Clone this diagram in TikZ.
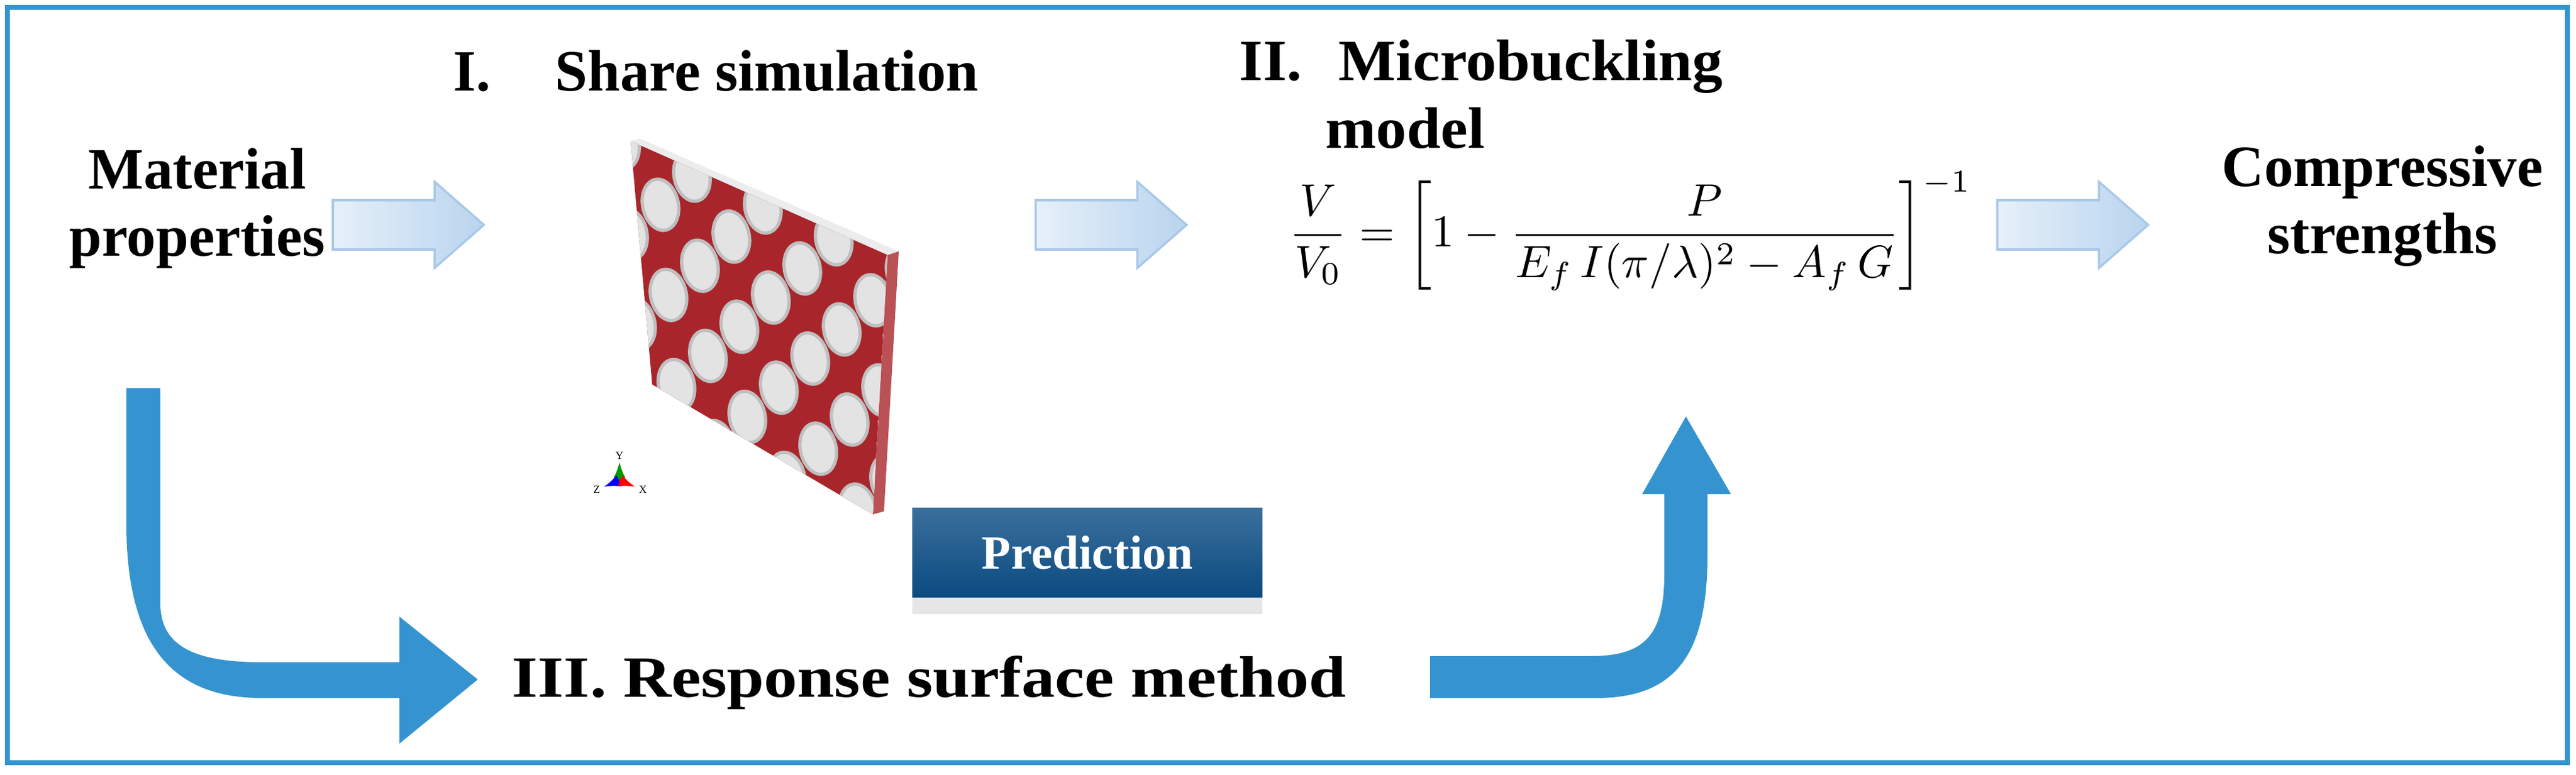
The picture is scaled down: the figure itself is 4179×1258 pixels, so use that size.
\documentclass[tikz,border=0pt]{standalone}
\usepackage{fontspec}
\setmainfont{Liberation Serif}
\usepackage{amsmath,graphicx}
\usetikzlibrary{shadows,calc}
\definecolor{bblue}{HTML}{3594D0}
\definecolor{lblueA}{HTML}{E6F0F9}
\definecolor{lblueB}{HTML}{B9D4EE}
\definecolor{lbord}{HTML}{A9C8E8}
\definecolor{matred}{HTML}{A8262B}
\definecolor{predtop}{HTML}{3A6F9C}
\definecolor{predbot}{HTML}{0B4A80}
\tikzset{
  lbl/.style={font=\fontsize{27}{31}\selectfont\bfseries, align=center, inner sep=0pt},
  lightarrow/.style={draw=lbord, line width=1pt, left color=lblueA, right color=lblueB},
  bentarrow/.style={fill=bblue, draw=none},
}
\begin{document}
\begin{tikzpicture}[x=0.01cm,y=-0.01cm]
\useasboundingbox (0,0) rectangle (4179,1258);
\draw[bblue, line width=2.5pt] (12,12) rectangle (4165,1238);

% labels
\node[lbl] (mat) at (320,338) {Material\\properties};
\node[lbl] (comp) at (3865,335) {Compressive\\strengths};
\node[lbl, anchor=west] (s1) at (735,115) {I.\hspace{1.1em}Share simulation};
\node[lbl, anchor=west] (s2) at (2010,108) {\scalebox{1.04}[1]{II.\hspace{0.6em}Microbuckling}};
\node[lbl, anchor=west] (s2b) at (2150,208) {\scalebox{1.04}[1]{model}};
\node[lbl, anchor=west] (s3) at (830,1108) {\scalebox{1.14}[1]{III. Response surface method}};

% formula
\node[inner sep=0pt, scale=2.1] (form) at (2645,375)
 {$\displaystyle \frac{V}{V_0}=\left[1-\frac{P}{E_f\,I(\pi/\lambda)^2-A_f\,G}\right]^{-1}$};

% light arrows
\foreach \x in {540,1680,3240}{
  \draw[lightarrow] (\x,325) -- (\x+165,325) -- (\x+165,295) -- (\x+245,365)
    -- (\x+165,435) -- (\x+165,405) -- (\x,405) -- cycle;
}

% simulation
\coordinate (TL) at (1023,229);
\coordinate (TR) at (1440,414);
\coordinate (BR) at (1416,835);
\coordinate (BL) at (1058,624);
\fill[white!85!gray] (TL) -- (1038,225) -- (1458,408) -- (TR) -- cycle;
\fill[matred!80!white] (TR) -- (1458,408) -- (1434,830) -- (BR) -- cycle;
\begin{scope}
  \clip (TL) -- (TR) -- (BR) -- (BL) -- cycle;
  \fill[matred] (TL) -- (TR) -- (BR) -- (BL) -- cycle;
  \foreach \i in {0,...,5}{
    \foreach \j in {0,...,7}{
      \pgfmathsetmacro{\a}{(\i+0.5*mod(\j,2))/3.6-0.04}
      \pgfmathsetmacro{\b}{\j/5.4+0.03}
      \pgfmathsetmacro{\cx}{1023+\a*414+\b*35}
      \pgfmathsetmacro{\cy}{229+\a*186+\b*395}
      \fill[gray!22, draw=gray!50, line width=1.5pt, rotate around={12:(\cx,\cy)}] (\cx,\cy) ellipse (29 and 42);
    }
  }
\end{scope}
% axis triad
\coordinate (ax) at (1005,780);
\draw[green!60!black, line width=1.5pt, -latex] (ax) -- ++(0,-30);
\draw[blue, line width=1.5pt, -latex] (ax) -- ++(-25,10);
\draw[red, line width=1.5pt, -latex] (ax) -- ++(25,10);
\node[font=\tiny, inner sep=0pt] at (1005,740) {Y};
\node[font=\tiny, inner sep=0pt] at (968,795) {Z};
\node[font=\tiny, inner sep=0pt] at (1043,795) {X};

% prediction
\node[minimum width=5.68cm, minimum height=1.44cm, top color=predtop, bottom color=predbot,
  drop shadow={shadow xshift=0pt, shadow yshift=-8pt, opacity=0.2},
  text=white, font=\fontsize{22}{26}\selectfont\bfseries] (pred) at (1764,897) {Prediction};

% bent arrows
\path[bentarrow] (205,630) -- (205,850) .. controls (205,1060) and (290,1133) .. (425,1133)
  -- (648,1133) -- (648,1207) -- (775,1103) -- (648,1001) -- (648,1075) -- (425,1075)
  .. controls (300,1075) and (260,1040) .. (260,978) -- (260,630) -- cycle;
\path[bentarrow] (2320,1065) -- (2320,1133) -- (2590,1133)
  .. controls (2720,1133) and (2770,1060) .. (2770,900) -- (2770,802) -- (2808,802)
  -- (2735,676) -- (2664,802) -- (2700,802) -- (2700,930)
  .. controls (2700,1030) and (2670,1065) .. (2580,1065) -- cycle;
\end{tikzpicture}
\end{document}
